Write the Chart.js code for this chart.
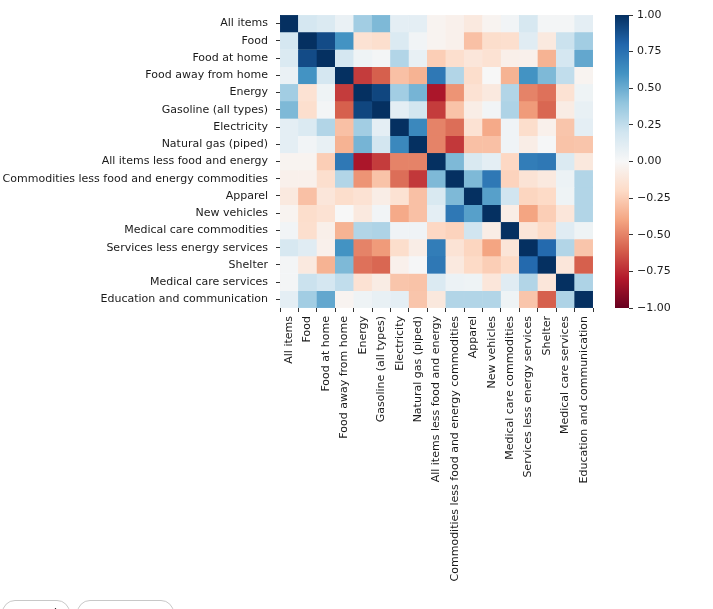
<!DOCTYPE html>
<html>
<head>
<meta charset="utf-8">
<script src="https://cdn.jsdelivr.net/npm/chart.js@4/dist/chart.umd.min.js"></script>
<style>
    html, body { margin: 0; padding: 0; background: #fff; width: 713px; height: 609px; overflow: hidden; position: relative; }
    #heatmap { position: absolute; left: 0; top: 0; }
    #colorbar { position: absolute; left: 615px; top: 0; }
    .pill { position: absolute; top: 600px; height: 26px; border: 1px solid #c8c8c8; border-radius: 14px;
            font: 13px "DejaVu Sans", sans-serif; color: #333; box-sizing: border-box; padding: 5px 0 0 14px; }
</style>
</head>
<body>
<canvas id="heatmap" width="713" height="609"></canvas>
<canvas id="colorbar" width="98" height="609"></canvas>
<div class="pill" style="left:2px; width:68px;">+ Code</div>
<div class="pill" style="left:77px; width:97px;">+ Markdown</div>
<script>
// 항목 이름 (행 = 열)
const categories = [
    'All items', 'Food', 'Food at home', 'Food away from home', 'Energy',
    'Gasoline (all types)', 'Electricity', 'Natural gas (piped)',
    'All items less food and energy', 'Commodities less food and energy commodities',
    'Apparel', 'New vehicles', 'Medical care commodities',
    'Services less energy services', 'Shelter', 'Medical care services',
    'Education and communication'
];

// 상관계수 행렬
const correlations = [
    [ 1.00,  0.18,  0.15,  0.07,  0.35,  0.45,  0.10,  0.10, -0.03, -0.05, -0.10, -0.03,  0.03,  0.17,  0.02,  0.02,  0.10],
    [ 0.18,  1.00,  0.90,  0.60, -0.15, -0.17,  0.15,  0.03, -0.03, -0.05, -0.30, -0.18, -0.17,  0.12, -0.10,  0.22,  0.35],
    [ 0.15,  0.90,  1.00,  0.18,  0.05,  0.02,  0.30,  0.08, -0.25, -0.17, -0.12, -0.15, -0.06, -0.05, -0.35,  0.18,  0.52],
    [ 0.07,  0.60,  0.18,  1.00, -0.70, -0.60, -0.30, -0.35,  0.72,  0.30, -0.18,  0.00, -0.35,  0.60,  0.45,  0.25, -0.03],
    [ 0.35, -0.15,  0.05, -0.70,  1.00,  0.92,  0.35,  0.47, -0.82, -0.45, -0.15, -0.10,  0.30, -0.50, -0.55, -0.15,  0.05],
    [ 0.45, -0.17,  0.02, -0.60,  0.92,  1.00,  0.10,  0.19, -0.70, -0.29, -0.07,  0.03,  0.31, -0.43, -0.58, -0.08,  0.08],
    [ 0.10,  0.15,  0.30, -0.30,  0.35,  0.10,  1.00,  0.65, -0.50, -0.56, -0.15, -0.38,  0.04, -0.18, -0.05, -0.28,  0.10],
    [ 0.10,  0.03,  0.08, -0.35,  0.47,  0.19,  0.65,  1.00, -0.50, -0.71, -0.30, -0.30,  0.04, -0.07,  0.01, -0.29, -0.28],
    [-0.03, -0.03, -0.25,  0.72, -0.82, -0.70, -0.50, -0.50,  1.00,  0.45,  0.16,  0.10, -0.21,  0.70,  0.72,  0.15, -0.11],
    [-0.05, -0.05, -0.17,  0.30, -0.45, -0.29, -0.56, -0.71,  0.45,  1.00,  0.45,  0.72, -0.23, -0.14, -0.10,  0.06,  0.30],
    [-0.10, -0.30, -0.12, -0.18, -0.15, -0.07, -0.15, -0.30,  0.16,  0.45,  1.00,  0.55,  0.20, -0.22, -0.20,  0.05,  0.30],
    [-0.03, -0.18, -0.15,  0.00, -0.10,  0.03, -0.38, -0.30,  0.10,  0.72,  0.55,  1.00, -0.07, -0.40, -0.25, -0.12,  0.30],
    [ 0.03, -0.17, -0.06, -0.35,  0.30,  0.31,  0.04,  0.04, -0.21, -0.23,  0.20, -0.07,  1.00, -0.13, -0.20,  0.12,  0.05],
    [ 0.17,  0.12, -0.05,  0.60, -0.50, -0.43, -0.18, -0.07,  0.70, -0.14, -0.22, -0.40, -0.13,  1.00,  0.78,  0.30, -0.28],
    [ 0.02, -0.10, -0.35,  0.45, -0.55, -0.58, -0.05,  0.01,  0.72, -0.10, -0.20, -0.25, -0.20,  0.78,  1.00, -0.12, -0.60],
    [ 0.02,  0.22,  0.18,  0.25, -0.15, -0.08, -0.28, -0.29,  0.15,  0.06,  0.05, -0.12,  0.12,  0.30, -0.12,  1.00,  0.31],
    [ 0.10,  0.35,  0.52, -0.03,  0.05,  0.08,  0.10, -0.28, -0.11,  0.30,  0.30,  0.30,  0.05, -0.28, -0.60,  0.31,  1.00]
];

// 컬러바 눈금
const colorbarTicks = [-1, -0.75, -0.5, -0.25, 0, 0.25, 0.5, 0.75, 1];

// RdBu_r 색상표 (-1 → 1)
const RDBU_R = ['#67001f', '#b2182b', '#d6604d', '#f4a582', '#fddbc7', '#f7f7f7',
                '#d1e5f0', '#92c5de', '#4393c3', '#2166ac', '#053061'];

const FONT = { family: '"DejaVu Sans", sans-serif', size: 11 };
const TEXT_COLOR = '#1a1a1a';

function hexToRgb(hex) {
    const n = parseInt(hex.slice(1), 16);
    return [(n >> 16) & 255, (n >> 8) & 255, n & 255];
}

/**
 * 값(-1~1)을 RdBu_r 색으로 변환
 */
function valueToColor(v) {
    const t = Math.max(0, Math.min(1, (v + 1) / 2)) * (RDBU_R.length - 1);
    const i = Math.min(Math.floor(t), RDBU_R.length - 2);
    const f = t - i;
    const a = hexToRgb(RDBU_R[i]);
    const b = hexToRgb(RDBU_R[i + 1]);
    const c = a.map((x, k) => Math.round(x + (b[k] - x) * f));
    return `rgb(${c[0]}, ${c[1]}, ${c[2]})`;
}

// 히트맵: 행마다 하나의 데이터셋, 각 셀은 [r-0.5, r+0.5] 떠있는 막대
const heatDatasets = correlations.map((row, r) => ({
    data: row.map(() => [r - 0.5, r + 0.5]),
    backgroundColor: row.map(v => valueToColor(v)),
    borderColor: row.map(v => valueToColor(v)),
    borderWidth: 0.5,
    borderSkipped: false,
    barPercentage: 1,
    categoryPercentage: 1,
    grouped: false
}));

new Chart(document.getElementById('heatmap'), {
    type: 'bar',
    data: { labels: categories, datasets: heatDatasets },
    options: {
        responsive: false,
        animation: false,
        layout: { padding: { left: 0, right: 120, top: 15, bottom: 0 } },
        plugins: { legend: { display: false }, tooltip: { enabled: false } },
        scales: {
            x: {
                type: 'category',
                grid: { drawOnChartArea: false, drawTicks: true, tickLength: 4, color: '#333' },
                border: { display: false },
                ticks: { autoSkip: false, maxRotation: 90, minRotation: 90, padding: 4, font: FONT, color: TEXT_COLOR },
                afterFit: (axis) => { axis.height = 301; }
            },
            y: {
                type: 'linear',
                min: -0.5,
                max: categories.length - 0.5,
                reverse: true,
                grid: { drawOnChartArea: false, drawTicks: true, tickLength: 4, color: '#333' },
                border: { display: false },
                ticks: { padding: 8, font: FONT, color: TEXT_COLOR, callback: (v) => categories[v] },
                afterBuildTicks: (axis) => { axis.ticks = categories.map((_, i) => ({ value: i })); },
                afterFit: (axis) => { axis.width = 280; }
            }
        }
    }
});

// 컬러바: 하나의 떠있는 막대를 그라데이션으로 채움
new Chart(document.getElementById('colorbar'), {
    type: 'bar',
    data: {
        labels: [''],
        datasets: [{
            data: [[-1, 1]],
            backgroundColor: (context) => {
                const { chart } = context;
                const area = chart.chartArea;
                if (!area) return null;
                const g = chart.ctx.createLinearGradient(0, area.bottom, 0, area.top);
                RDBU_R.forEach((c, i) => g.addColorStop(i / (RDBU_R.length - 1), c));
                return g;
            },
            borderWidth: 0,
            barPercentage: 1,
            categoryPercentage: 1
        }]
    },
    options: {
        responsive: false,
        animation: false,
        layout: { padding: { left: 0, right: 0, top: 15, bottom: 0 } },
        plugins: { legend: { display: false }, tooltip: { enabled: false } },
        scales: {
            x: {
                display: false,
                afterFit: (axis) => { axis.height = 301; }
            },
            y: {
                position: 'right',
                min: -1,
                max: 1,
                grid: { drawOnChartArea: false, drawTicks: true, tickLength: 4, color: '#333' },
                border: { display: false },
                ticks: {
                    padding: 4, font: FONT, color: TEXT_COLOR,
                    callback: (v) => v.toFixed(2).replace('-', '\u2212')
                },
                afterBuildTicks: (axis) => { axis.ticks = colorbarTicks.map(v => ({ value: v })); },
                afterFit: (axis) => { axis.width = 84; }
            }
        }
    }
});
</script>
</body>
</html>
